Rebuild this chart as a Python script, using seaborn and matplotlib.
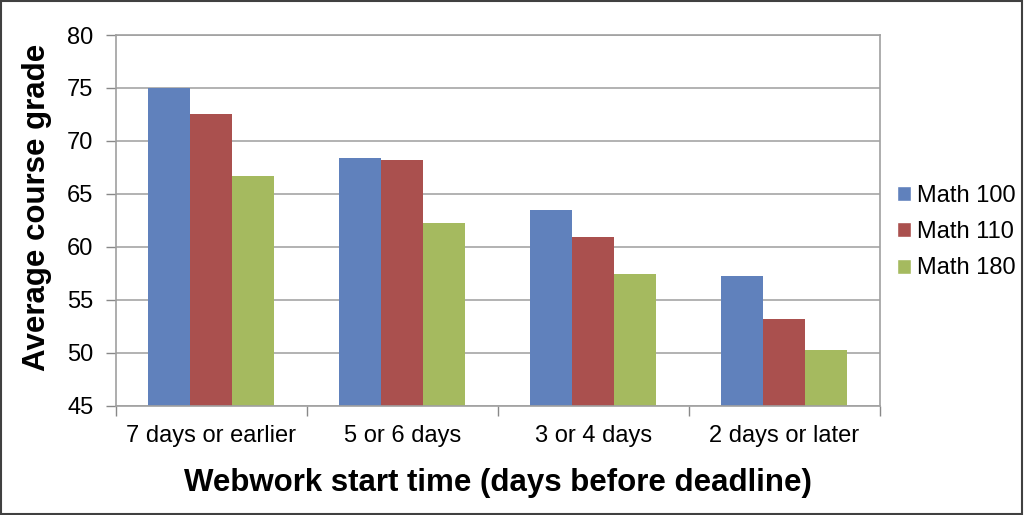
import pandas as pd
import seaborn as sns
import matplotlib.pyplot as plt
from matplotlib.patches import Patch

# Data
categories = ['7 days or earlier', '5 or 6 days', '3 or 4 days', '2 days or later']
courses = ['Math 100', 'Math 110', 'Math 180']
math_100 = [75.0, 68.4, 63.5, 57.3]
math_110 = [72.5, 68.2, 60.9, 53.2]
math_180 = [66.7, 62.3, 57.4, 50.3]

colors = ['#6081BC', '#AA504E', '#A5BA5F']

df = pd.DataFrame({
    'start': categories * 3,
    'course': [c for c in courses for _ in categories],
    'grade': math_100 + math_110 + math_180,
})

sns.set_style('white')
plt.rcParams['font.family'] = ['Liberation Sans', 'DejaVu Sans']
plt.rcParams['text.color'] = 'black'
plt.rcParams['axes.labelcolor'] = 'black'
plt.rcParams['xtick.labelcolor'] = 'black'
plt.rcParams['ytick.labelcolor'] = 'black'

fig = plt.figure(figsize=(10.24, 5.15), dpi=100)
ax = fig.add_axes([0.113, 0.212, 0.746, 0.720])

sns.barplot(data=df, x='start', y='grade', hue='course', order=categories,
            hue_order=courses, palette=colors, width=0.66, saturation=1,
            linewidth=0, ax=ax, legend=False)

# bars start from the axis floor at 45
for bar in ax.patches:
    h = bar.get_height()
    bar.set_y(45)
    bar.set_height(h - 45)

ax.set_ylim(45, 80)
ax.set_xlim(-0.5, len(categories) - 0.5)
ax.set_yticks(range(45, 81, 5))
ax.yaxis.grid(True, color='#A6A6A6', linewidth=1.2)
ax.set_axisbelow(True)

# ticks between the groups on x
ax.set_xticks([i - 0.5 for i in range(len(categories) + 1)], minor=False)
ax.set_xticklabels([])
ax.set_xticks(range(len(categories)), minor=True)
ax.set_xticklabels(categories, minor=True, fontsize=17)
ax.tick_params(axis='x', which='major', length=7, width=1, color='#888888', direction='out', bottom=True)
ax.tick_params(axis='x', which='minor', length=0, pad=14)
ax.tick_params(axis='y', length=7, width=1, color='#888888', direction='out', left=True, labelsize=17, pad=9)

for s in ax.spines.values():
    s.set_color('#A0A0A0')
    s.set_linewidth(1.2)

ax.set_xlabel('Webwork start time (days before deadline)', fontsize=22.5, fontweight='bold', labelpad=15)
ax.set_ylabel('Average course grade', fontsize=22.5, fontweight='bold')
ax.yaxis.set_label_coords(-0.083, 0.536)

handles = [Patch(facecolor=c, label=l) for c, l in zip(colors, courses)]
fig.legend(handles=handles, loc='center left', bbox_to_anchor=(0.855, 0.549),
           frameon=False, fontsize=17, handlelength=0.6, handleheight=0.6,
           handletextpad=0.25, labelspacing=0.6)

fig.patches.append(plt.Rectangle((0.001, 0.002), 0.997, 0.996, transform=fig.transFigure,
                                 fill=False, edgecolor='#404040', linewidth=1.5))

fig.savefig('out.png', dpi=100)
